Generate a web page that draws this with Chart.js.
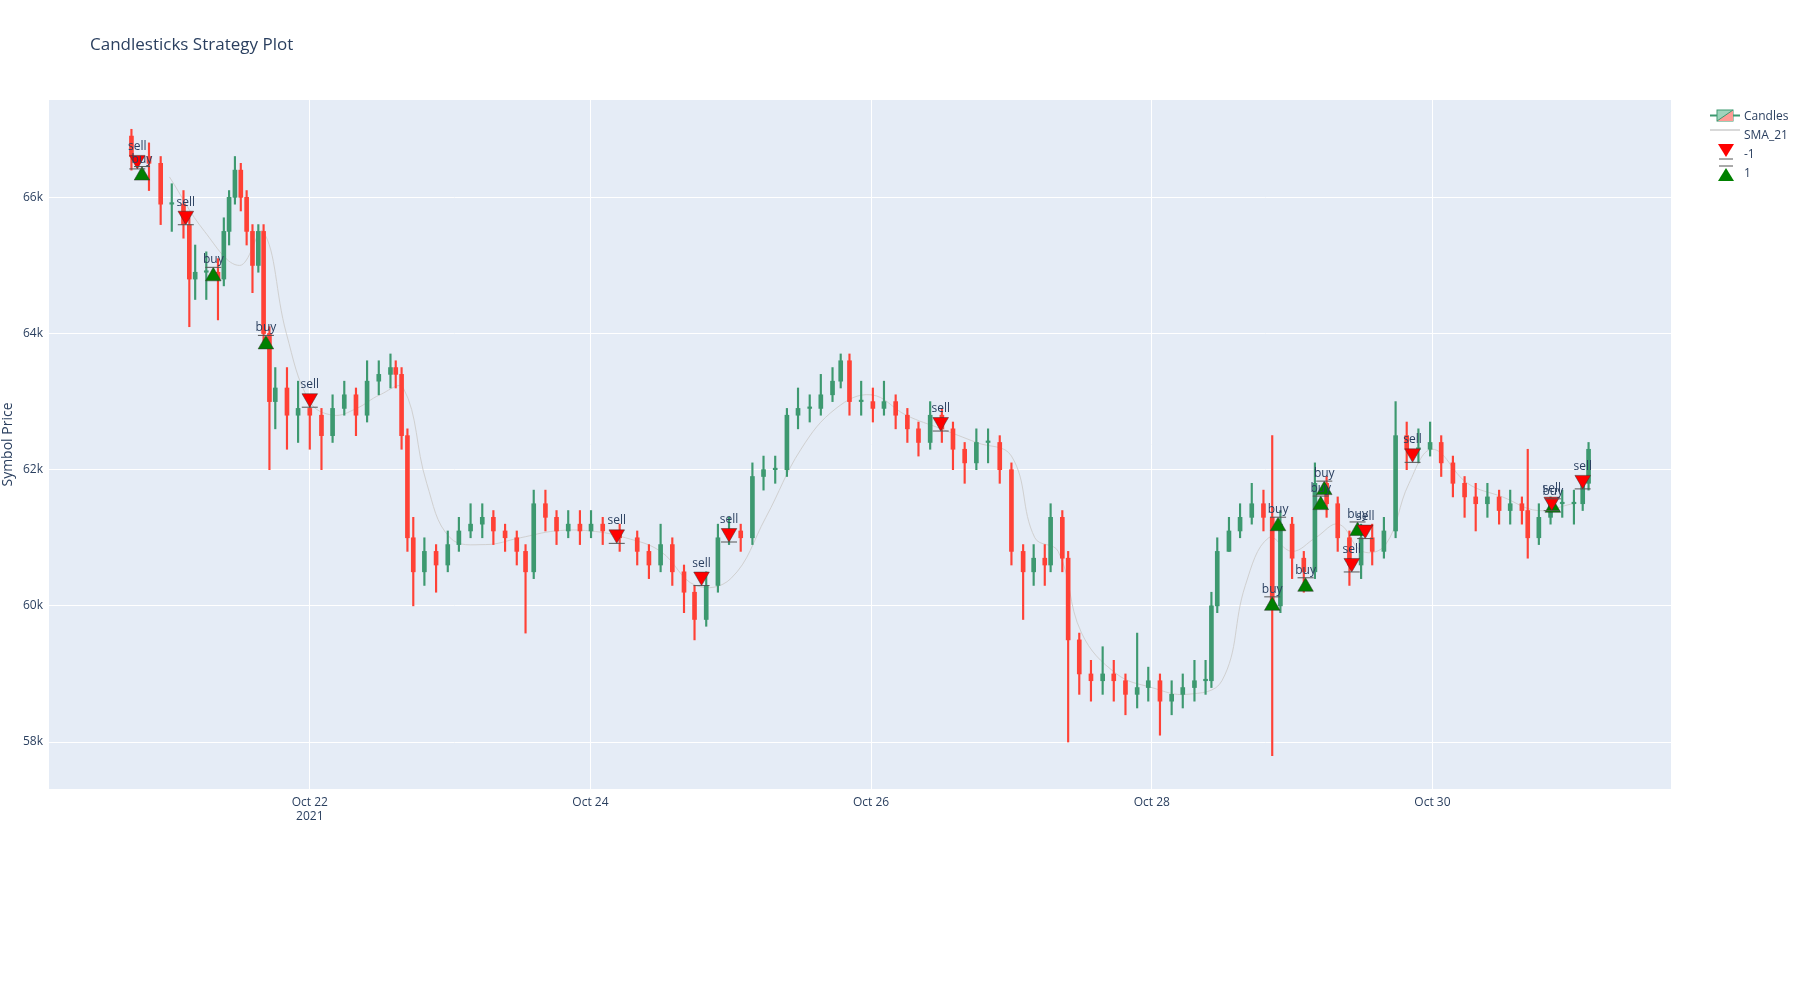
<!DOCTYPE html>
<html>
<head>
<meta charset="utf-8">
<script src="https://cdn.jsdelivr.net/npm/chart.js@4.4.1/dist/chart.umd.min.js"></script>
<style>
  body { margin: 0; background: #fff; font-family: "Open Sans", "Liberation Sans", sans-serif; }
  #wrap { position: relative; width: 1800px; height: 1000px; }
  #title { position: absolute; left: 90px; top: 32px; font-size: 17px; color: #2a3f5f; }
  #legend { position: absolute; left: 1708px; top: 106px; font-size: 12px; color: #2a3f5f; }
  #legend div { height: 19px; line-height: 19px; position: relative; padding-left: 36px; }
  #legend svg { position: absolute; left: 0; top: 0; }
</style>
</head>
<body>
<div id="wrap">
  <canvas id="data_viz" width="1800" height="1000"></canvas>
  <div id="title">Candlesticks Strategy Plot</div>
  <div id="legend">
    <div><svg width="34" height="19"><line x1="2" y1="9.5" x2="32" y2="9.5" stroke="#3D9970" stroke-width="2"/><rect x="9" y="4" width="16" height="11" fill="#9fd4bc" stroke="#3D9970"/><polygon points="25,4 25,15 9,15" fill="#ff9a94"/><line x1="9" y1="15" x2="25" y2="4" stroke="#3D9970"/></svg>Candles</div>
    <div><svg width="34" height="19"><line x1="2" y1="5" x2="32" y2="5" stroke="#ccc" stroke-width="1.5"/></svg>SMA_21</div>
    <div><svg width="34" height="19"><polygon points="10,0 26,0 18,13" fill="red"/><line x1="11" y1="15" x2="25" y2="15" stroke="#555"/></svg>-1</div>
    <div><svg width="34" height="19"><line x1="11" y1="3" x2="25" y2="3" stroke="#555"/><polygon points="18,5 26,18 10,18" fill="green"/></svg>1</div>
  </div>
</div>
<script>
// hours since Oct 20 2021 00:00
var times = [17.5,20.5,22.5,24.4,26.4,27.4,28.4,30.3,32.3,33.3,
  34.2,35.2,36.2,37.2,38.2,39.2,40.1,41.1,42.1,44.1,
  46.0,48,50,51.9,53.9,55.9,57.8,59.8,61.8,62.7,
  63.7,64.7,65.7,67.6,69.6,71.6,73.5,75.5,77.5,79.4,
  81.4,83.4,84.9,86.3,88.3,90.2,92.2,94.2,96.1,98.1,
  101,104,106,108,110,112,113.8,115.8,117.8,119.7,
  121.7,123.7,125.6,127.6,129.6,131.5,133.5,135.4,137.4,138.8,
  140.3,142.3,144.3,146.2,148.2,150.2,152.1,154.1,156.1,158,
  160,162,164,166,168,170,171.8,173.7,174.7,176.7,
  177.7,179.6,181.6,183.6,185.5,187.5,189.5,191.4,193.4,195.4,
  197.3,199.3,201.2,202.2,203.2,205.2,207.1,209.1,211.1,212.6,
  214,216,218,219.9,221.9,223.8,225.8,227.8,229.7,231.7,
  233.7,235.6,237.6,239.6,241.5,243.5,245.5,247.4,249.4,251.4,
  253.3,255.3,256.3,258.2,260.2,262.2,264.2,265.7,266.7]

// prices in thousands
var firstOpen = 66.9
var closes = [66.6,66.5,65.9,65.9,65.6,64.8,64.9,64.9,64.8,65.5,
  66.0,66.4,66.0,65.5,65.0,65.5,64.0,63.0,63.2,62.8,
  62.9,62.8,62.5,62.9,63.1,62.8,63.3,63.4,63.5,63.4,
  62.5,61.0,60.5,60.8,60.6,60.9,61.1,61.2,61.3,61.1,
  61.0,60.8,60.5,61.5,61.3,61.1,61.2,61.1,61.2,61.1,
  61.0,60.8,60.6,60.9,60.5,60.2,59.8,60.3,61.0,61.1,
  61.0,61.9,62.0,62.0,62.8,62.9,62.9,63.1,63.3,63.6,
  63.0,63.0,62.9,63.0,62.8,62.6,62.4,62.8,62.6,62.3,
  62.1,62.4,62.4,62.0,60.8,60.5,60.7,60.6,61.3,60.7,
  59.5,59.0,58.9,59.0,58.9,58.7,58.8,58.9,58.6,58.7,
  58.8,58.9,58.9,60.0,60.8,61.1,61.3,61.5,61.3,60.0,
  61.2,60.7,60.5,61.8,61.5,61.0,60.6,61.0,60.8,61.1,
  62.5,62.3,62.3,62.4,62.1,61.8,61.6,61.5,61.6,61.4,
  61.5,61.4,61.0,61.3,61.5,61.5,61.5,61.8,62.3]
var highs = [67.0,66.8,66.6,66.2,66.1,65.7,65.3,65.2,65.1,65.7,
  66.1,66.6,66.5,66.1,65.6,65.6,65.6,64.1,63.5,63.5,
  63.3,63.1,62.9,63.1,63.3,63.2,63.6,63.6,63.7,63.6,
  63.5,62.6,61.3,61.0,60.9,61.1,61.3,61.5,61.5,61.4,
  61.2,61.1,60.9,61.7,61.7,61.4,61.4,61.4,61.4,61.3,
  61.2,61.1,60.9,61.2,61.0,60.6,60.3,60.5,61.2,61.3,
  61.2,62.1,62.2,62.2,62.9,63.2,63.1,63.4,63.5,63.7,
  63.7,63.3,63.2,63.3,63.1,62.9,62.7,63.0,62.9,62.7,
  62.4,62.6,62.6,62.5,62.1,60.9,60.9,60.9,61.5,61.4,
  60.8,59.6,59.2,59.4,59.2,59.0,59.6,59.1,59.0,58.9,
  59.0,59.2,59.2,60.2,61.0,61.3,61.5,61.8,61.7,62.5,
  61.4,61.3,60.8,62.1,61.9,61.6,61.1,61.2,61.2,61.3,
  63.0,62.7,62.6,62.7,62.5,62.2,61.9,61.8,61.8,61.7,
  61.7,61.6,62.3,61.5,61.6,61.7,61.7,61.9,62.4]
var lows = [66.4,66.1,65.6,65.5,65.4,64.1,64.5,64.5,64.2,64.7,
  65.3,65.9,65.8,65.3,64.6,64.9,63.8,62.0,62.6,62.3,
  62.4,62.3,62.0,62.4,62.8,62.5,62.7,63.1,63.2,63.2,
  62.3,60.8,60.0,60.3,60.2,60.5,60.8,61.0,61.0,60.9,
  60.8,60.6,59.6,60.4,61.1,60.9,61.0,60.9,61.0,60.9,
  60.8,60.6,60.4,60.5,60.3,59.9,59.5,59.7,60.2,60.9,
  60.8,60.9,61.7,61.8,61.9,62.6,62.7,62.8,63.0,63.2,
  62.8,62.8,62.7,62.8,62.6,62.4,62.2,62.3,62.4,62.0,
  61.8,62.0,62.1,61.8,60.6,59.8,60.3,60.3,60.5,60.5,
  58.0,58.7,58.6,58.7,58.6,58.4,58.5,58.6,58.1,58.4,
  58.5,58.6,58.7,58.8,59.9,60.8,61.0,61.2,61.1,57.8,
  59.9,60.4,60.2,60.4,61.3,60.8,60.3,60.4,60.6,60.7,
  61.0,62.0,62.1,62.2,61.9,61.6,61.3,61.1,61.3,61.2,
  61.2,61.2,60.7,60.9,61.2,61.3,61.2,61.4,61.7]

var smaTimes = [24,30,36,40,44,48,52,56,60,64,68,72,78,84,90,96,102,108,114,120,
  126,132,138,144,150,156,162,168,172,176,180,186,192,198,204,208,212,216,220,224,
  228,232,236,240,246,252,258,264]
var sma = [66.3,65.5,65.0,65.5,64.0,63.0,62.8,62.9,63.1,63.2,61.8,61.0,60.9,61.0,61.1,61.1,61.0,60.8,60.3,60.4,
  61.3,62.3,62.9,63.1,62.8,62.6,62.4,62.2,61.0,60.8,59.6,59.0,58.8,58.7,58.9,60.3,61.0,60.8,61.0,61.2,
  60.8,60.9,61.8,62.3,61.8,61.6,61.4,61.5]

var sellTimes = [18.5,26.8,48,100.5,115,119.7,155.9,226.2,228.5,236.6,260.4,265.7]
var sellPrices = [66.55,65.73,63.05,61.05,60.43,61.07,62.7,60.63,61.12,62.24,61.53,61.85]
var buyTimes = [19.3,31.5,40.5,212.6,213.6,218.3,220.9,221.5,227.2,260.6]
var buyPrices = [66.32,64.84,63.84,60.0,61.17,60.28,61.48,61.7,61.1,61.44]

var tickDays = [48, 96, 144, 192, 240]
var tickLabels = [["Oct 22", "2021"], "Oct 24", "Oct 26", "Oct 28", "Oct 30"]

var UP = '#3D9970', DOWN = '#FF4136'
var wickData = [], bodyData = [], colors = []
var prev = firstOpen
times.forEach(function(t, i) {
  wickData.push({x: t, y: [lows[i], highs[i]]})
  bodyData.push({x: t, y: [prev, closes[i]]})
  colors.push(closes[i] >= prev ? UP : DOWN)
  prev = closes[i]
})
function pts(xs, ys) { return xs.map(function(x, i) { return {x: x, y: ys[i]} }) }

var bgPlugin = {
  id: 'bg',
  beforeDraw: function(chart) {
    var a = chart.chartArea, c = chart.ctx
    c.save(); c.fillStyle = '#E5ECF6'; c.fillRect(a.left, a.top, a.right - a.left, a.bottom - a.top); c.restore()
  }
}
var signalPlugin = {
  id: 'signals',
  afterDatasetsDraw: function(chart) {
    var c = chart.ctx, xs = chart.scales.x, ys = chart.scales.y
    c.save()
    c.font = '12px "Open Sans", sans-serif'
    c.fillStyle = '#2a3f5f'; c.textAlign = 'center'; c.strokeStyle = '#555'; c.lineWidth = 1
    sellTimes.forEach(function(t, i) {
      var x = xs.getPixelForValue(t), y = ys.getPixelForValue(sellPrices[i])
      c.beginPath(); c.moveTo(x - 8, y + 9); c.lineTo(x + 8, y + 9); c.stroke()
      c.fillText('sell', x, y - 10)
    })
    buyTimes.forEach(function(t, i) {
      var x = xs.getPixelForValue(t), y = ys.getPixelForValue(buyPrices[i])
      c.beginPath(); c.moveTo(x - 8, y - 9); c.lineTo(x + 8, y - 9); c.stroke()
      c.fillText('buy', x, y - 13)
    })
    c.restore()
  }
}

var ctx = document.getElementById('data_viz')
var chart = new Chart(ctx, {
  type: 'bar',
  data: {
    datasets: [
      {data: sma.map(function(v, i) { return {x: smaTimes[i], y: v} }), type: 'line', borderColor: '#d0d0d0',
        borderWidth: 1, pointRadius: 0, tension: 0.4, order: 3},
      {data: wickData, backgroundColor: colors, barThickness: 1.5, grouped: false, order: 2},
      {data: bodyData, backgroundColor: colors, barThickness: 4, minBarLength: 1.5, grouped: false, order: 1},
      {data: pts(sellTimes, sellPrices), type: 'scatter', pointStyle: 'triangle', rotation: 180, radius: 9,
        backgroundColor: 'red', borderColor: '#333', borderWidth: 0.5, order: 0},
      {data: pts(buyTimes, buyPrices), type: 'scatter', pointStyle: 'triangle', radius: 9,
        backgroundColor: 'green', borderColor: '#333', borderWidth: 0.5, order: 0}
    ]
  },
  options: {
    responsive: false,
    animation: false,
    layout: {padding: {left: 0, top: 100, right: 129, bottom: 0}},
    plugins: {legend: {display: false}, tooltip: {enabled: false}},
    scales: {
      x: {
        type: 'linear', min: 3.4, max: 280.8, offset: false,
        afterFit: function(s) { s.height = 211 },
        afterBuildTicks: function(s) { s.ticks = tickDays.map(function(v) { return {value: v} }) },
        ticks: {
          color: '#2a3f5f', font: {size: 12, family: '"Open Sans", sans-serif'}, maxRotation: 0, padding: 6,
          callback: function(v) { return tickLabels[tickDays.indexOf(v)] }
        },
        grid: {color: '#fff', lineWidth: 1, drawTicks: false, offset: false},
        border: {display: false}
      },
      y: {
        min: 57.31, max: 67.43,
        afterFit: function(s) { s.width = 49 },
        afterBuildTicks: function(s) { s.ticks = [58, 60, 62, 64, 66].map(function(v) { return {value: v} }) },
        ticks: {color: '#2a3f5f', font: {size: 12, family: '"Open Sans", sans-serif'}, padding: 6,
          callback: function(v) { return v + 'k' }},
        title: {display: true, text: 'Symbol Price', color: '#2a3f5f', font: {size: 14, family: '"Open Sans", sans-serif'}, padding: 0},
        grid: {color: '#fff', lineWidth: 1, drawTicks: false},
        border: {display: false}
      }
    }
  },
  plugins: [bgPlugin, signalPlugin]
})
</script>
</body>
</html>
